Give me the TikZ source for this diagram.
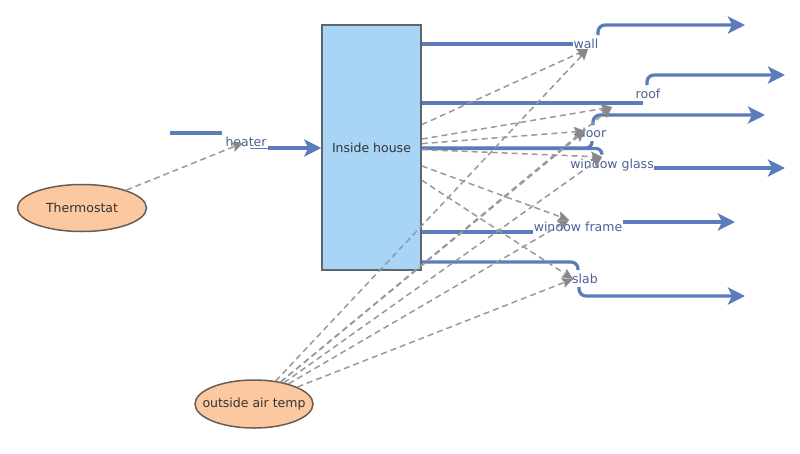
\documentclass[tikz,border=0pt]{standalone}
\usepackage{fontspec}
\setmainfont{DejaVu Sans}
\usetikzlibrary{arrows.meta,shapes.geometric,calc}
\definecolor{pipeblue}{HTML}{5B7BBA}
\definecolor{boxfill}{HTML}{A8D4F6}
\definecolor{boxline}{HTML}{5E6670}
\definecolor{peach}{HTML}{FBC8A0}
\definecolor{ellline}{HTML}{6A5C55}
\definecolor{infogray}{HTML}{999999}
\definecolor{tipgray}{HTML}{888888}
\definecolor{flowtext}{HTML}{4F6096}
\definecolor{darktext}{HTML}{333333}
\tikzset{
  pipe/.style={draw=pipeblue,line width=3.2pt},
  pipearrow/.style={pipe,-{Stealth[length=17pt,width=17pt,inset=4pt]}},
  thinpipe/.style={draw=pipeblue,line width=0.8pt},
  info/.style={draw=infogray,line width=1.5pt,dash pattern=on 6pt off 4pt,
    -{Stealth[length=11pt,width=10pt,inset=2pt,color=tipgray,fill=tipgray,line width=0.4pt]}},
  txt/.style={font=\fontsize{12.5}{14}\selectfont,inner sep=0pt},
  flowlabel/.style={txt,text=flowtext},
  darklabel/.style={txt,text=darktext},
  varell/.style={ellipse,draw=ellline,line width=1.5pt,fill=peach,inner sep=0pt},
  stockbox/.style={rectangle,draw=boxline,line width=1.5pt,fill=boxfill,darklabel}
}
\begin{document}
\begin{tikzpicture}[x=1pt,y=-1pt]
\useasboundingbox[fill=white] (0,0) rectangle (800,453);

% stock and auxiliaries
\node[stockbox,minimum width=99pt,minimum height=245pt] (house) at (371.5,147.5) {Inside house};
\node[varell,minimum width=129pt,minimum height=47pt] (thermo) at (82,208) {};
\node[darklabel] (thermotext) at (thermo) {Thermostat};
\node[varell,minimum width=118pt,minimum height=48pt] (outside) at (254,404) {};
\node[darklabel] (outsidetext) at (outside) {outside air temp};

% flow labels
\node[flowlabel] (heater) at (246,142) {heater};
\node[flowlabel] (wall) at (586,44) {wall};
\node[flowlabel] (roof) at (648,94) {roof};
\node[flowlabel] (door) at (592,133) {door};
\node[flowlabel] (wglass) at (612,165) {window glass};
\node[flowlabel] (wframe) at (578,227) {window frame};
\node[flowlabel] (slab) at (585,279) {slab};

% pipe coordinates
\coordinate (hsrc) at (170,133);
\coordinate (hmid) at (222,133);
\coordinate (hthin) at (250,148);
\coordinate (hin) at (268,148);
\coordinate (wallin) at (573,44);
\coordinate (wallout) at (598,35);
\coordinate (wallend) at (745,25);
\coordinate (roofin) at (643,103);
\coordinate (roofout) at (647,85);
\coordinate (roofend) at (785,75);
\coordinate (doorin) at (592,141);
\coordinate (doorout) at (593,125);
\coordinate (doorend) at (765,115);
\coordinate (glassin) at (602,154);
\coordinate (glassout) at (654,168);
\coordinate (glassend) at (785,168);
\coordinate (framein) at (533,232);
\coordinate (frameout) at (623,222);
\coordinate (frameend) at (735,222);
\coordinate (slabin) at (578,270);
\coordinate (slabout) at (579,287);
\coordinate (slabend) at (745,296);

% heater inflow
\draw[pipe] (hsrc) -- (hmid);
\draw[thinpipe] (hthin) -- (hin);
\draw[pipearrow] (hin) -- (hin -| house.west);

% outflows
\draw[pipe] (house.east |- wallin) -- (wallin);
\draw[pipearrow,rounded corners=7pt] (wallout) |- (wallend);
\draw[pipe] (house.east |- roofin) -- (roofin);
\draw[pipearrow,rounded corners=7pt] (roofout) |- (roofend);
\draw[pipe,rounded corners=6pt] (house.east |- 0,148) -| (doorin);
\draw[pipearrow,rounded corners=7pt] (doorout) |- (doorend);
\draw[pipe,rounded corners=6pt] (house.east |- 0,148.5) -| (glassin);
\draw[pipearrow] (glassout) -- (glassend);
\draw[pipe] (house.east |- framein) -- (framein);
\draw[pipearrow] (frameout) -- (frameend);
\draw[pipe,rounded corners=7pt] (house.east |- 0,262) -| (slabin);
\draw[pipearrow,rounded corners=7pt] (slabout) |- (slabend);

% information arrow targets
\coordinate (twall) at (588,49);
\coordinate (troof) at (612,107);
\coordinate (tdoor) at (585,131);
\coordinate (tglass) at (602,157);
\coordinate (tframe) at (569,220);
\coordinate (tslab) at (573,279);
\coordinate (theater) at (243,143);

% information arrows
\draw[info] (thermo) -- (theater);
\foreach \t in {twall,troof,tdoor,tglass,tframe,tslab}{
  \draw[info] (house) -- (\t);
  \draw[info] (outside) -- (\t);
}
\end{tikzpicture}
\end{document}
